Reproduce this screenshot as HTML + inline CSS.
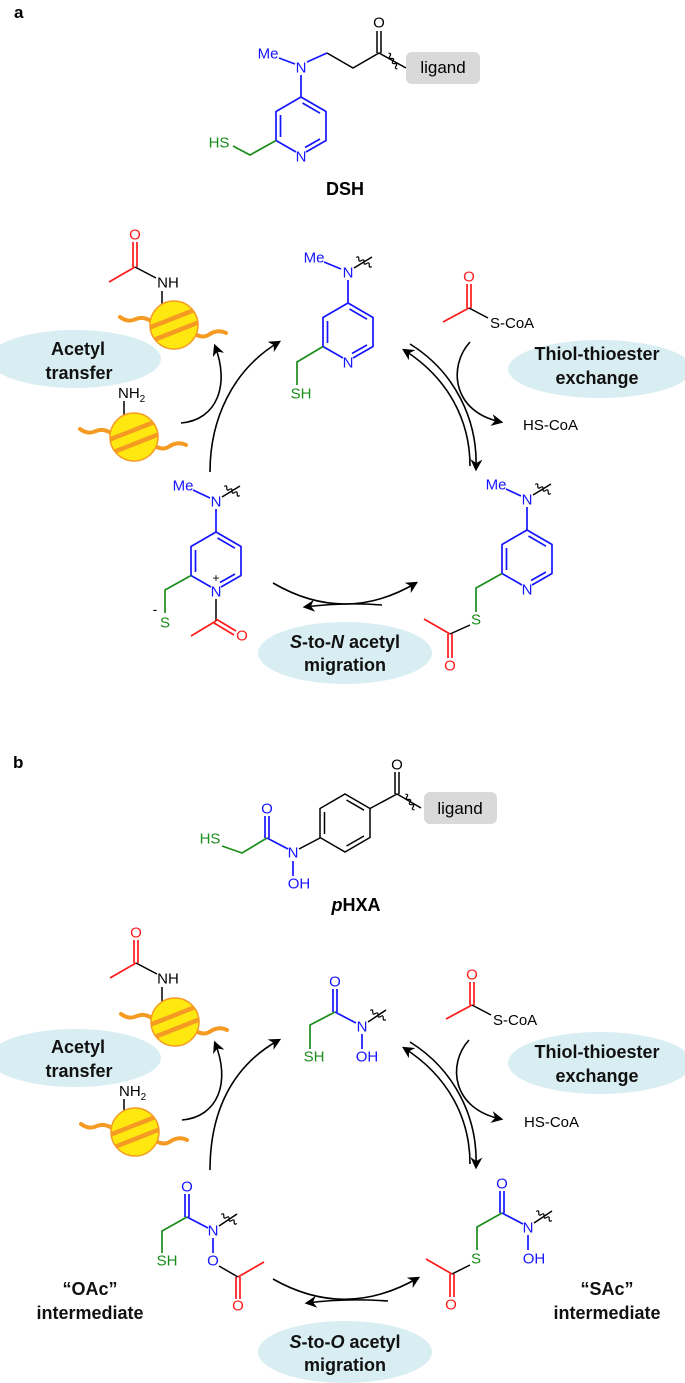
<!DOCTYPE html>
<html><head><meta charset="utf-8"><style>
html,body{margin:0;padding:0;background:#fff;}
svg{display:block;}
text{font-family:"Liberation Sans",Arial,sans-serif;}
.l{font-size:15px;text-anchor:middle;dominant-baseline:central;}
.bt{font-size:18px;font-weight:bold;text-anchor:middle;dominant-baseline:central;fill:#111;}
.k{stroke:#000;stroke-width:1.5;fill:none;}
.b{stroke:#1515ff;stroke-width:1.7;fill:none;}
.g{stroke:#1a8c1a;stroke-width:1.7;fill:none;}
.r{stroke:#ff1a1a;stroke-width:1.7;fill:none;}
.ar{stroke:#000;stroke-width:1.6;fill:none;}
</style></head><body>
<svg width="685" height="1383" viewBox="0 0 685 1383" xmlns="http://www.w3.org/2000/svg">
<defs>
<marker id="ah" viewBox="0 0 10 10" refX="8" refY="5" markerWidth="12" markerHeight="12" markerUnits="userSpaceOnUse" orient="auto-start-reverse"><path d="M0,0 L10,5 L0,10 L3,5z" fill="#000"/></marker>
<clipPath id="bc"><circle cx="0" cy="0" r="24"/></clipPath>
<g id="prot">
<path d="M-23,-4 q-8,-5 -15,-2 q-8,4 -16,-2" stroke="#f59a23" stroke-width="4" fill="none" stroke-linecap="round"/>
<path d="M21,9 q8,5 15,0 q8,-5 16,-1" stroke="#f59a23" stroke-width="4" fill="none" stroke-linecap="round"/>
<circle cx="0" cy="0" r="24" fill="#ffe80f" stroke="#f59a23" stroke-width="1.5"/>
<g clip-path="url(#bc)"><line x1="-28" y1="4" x2="28" y2="-18" stroke="#f59a23" stroke-width="4.5"/><line x1="-28" y1="18" x2="28" y2="-4" stroke="#f59a23" stroke-width="4.5"/></g>
</g>
<g id="pyr" class="b">
<path d="M0,0 L25,14.5 L25,43.5 L5,55 M-5,55 L-25,43.5 L-25,14.5 L0,0" stroke-linejoin="round"/>
<line x1="-20.5" y1="18" x2="-20.5" y2="40"/>
<line x1="1.5" y1="6" x2="19" y2="16.2"/>
<line x1="19" y1="42" x2="4" y2="50.5"/>
</g>
<g id="wav"><path d="M0,-9 q3,1.5 0,3 q-3,1.5 0,3 q3,1.5 0,3 q-3,1.5 0,3 q3,1.5 0,3 q-3,1.5 0,3" stroke="#000" stroke-width="1.2" fill="none"/></g>
</defs>

<!-- ===== Panel a ===== -->
<text x="14" y="18" font-size="17" font-weight="bold">a</text>
<text class="l" x="268" y="54" fill="#1515ff">Me</text>
<line class="b" x1="279" y1="58" x2="295" y2="64"/>
<text class="l" x="301" y="68" fill="#1515ff">N</text>
<path class="b" d="M307,62 L327,53"/>
<path class="k" d="M327,53 L353,68 L379,53 L406,68"/>
<line class="k" x1="377" y1="53" x2="377" y2="31"/><line class="k" x1="381" y1="53" x2="381" y2="31"/>
<text class="l" x="379" y="23" fill="#000">O</text>
<use href="#wav" transform="translate(393,61) rotate(-30)"/>
<rect x="406" y="52" width="74" height="32" rx="6" fill="#d9d9d9"/>
<text x="443" y="73" font-size="17" text-anchor="middle">ligand</text>
<line class="b" x1="301" y1="75" x2="301" y2="97"/>
<use href="#pyr" transform="translate(301,97)"/>
<text class="l" x="301" y="157" fill="#1515ff">N</text>
<path class="g" d="M276,140.5 L250,155 L233,146"/>
<text class="l" x="219" y="143" fill="#1a8c1a">HS</text>
<text x="345" y="195" font-size="18" font-weight="bold" text-anchor="middle">DSH</text>

<text class="l" x="314" y="258" fill="#1515ff">Me</text>
<line class="b" x1="324" y1="262" x2="341" y2="269"/>
<text class="l" x="348" y="273" fill="#1515ff">N</text>
<line class="k" x1="354" y1="268" x2="372" y2="257"/>
<use href="#wav" transform="translate(364,262) rotate(-60)"/>
<line class="b" x1="348" y1="280" x2="348" y2="303"/>
<use href="#pyr" transform="translate(348,303)"/>
<text class="l" x="348" y="363" fill="#1515ff">N</text>
<path class="g" d="M323,346.5 L297,362 L297,385"/>
<text class="l" x="301" y="394" fill="#1a8c1a">SH</text>

<line class="r" x1="467" y1="284" x2="467" y2="308"/><line class="r" x1="471" y1="284" x2="471" y2="308"/>
<text class="l" x="469" y="277" fill="#ff1a1a">O</text>
<line class="r" x1="469" y1="308" x2="443" y2="322"/>
<line class="k" x1="469" y1="308" x2="488" y2="318"/>
<text x="490" y="328" font-size="15">S-CoA</text>

<text class="l" x="135" y="235" fill="#ff1a1a">O</text>
<line class="r" x1="133" y1="242" x2="133" y2="267"/><line class="r" x1="137" y1="242" x2="137" y2="267"/>
<line class="r" x1="135" y1="267" x2="109" y2="282"/>
<line class="k" x1="135" y1="267" x2="156" y2="278"/>
<text class="l" x="168" y="283">NH</text>
<line class="k" x1="162" y1="291" x2="162" y2="312"/>
<use href="#prot" transform="translate(174,325)"/>
<text x="118" y="398" font-size="15">NH<tspan font-size="10" dy="4">2</tspan></text>
<line class="k" x1="124" y1="401" x2="124" y2="420"/>
<use href="#prot" transform="translate(134,437)"/>

<ellipse cx="75" cy="359" rx="86" ry="29" fill="#d9eef2"/>
<text class="bt" x="78" y="349">Acetyl</text><text class="bt" x="79" y="373">transfer</text>
<ellipse cx="600" cy="369" rx="92" ry="29" fill="#d9eef2"/>
<text class="bt" x="597" y="354">Thiol-thioester</text><text class="bt" x="597" y="378">exchange</text>
<text x="523" y="430" font-size="15">HS-CoA</text>

<path class="ar" d="M210,472 C210,420 232,370 279,342" marker-end="url(#ah)"/>
<path class="ar" d="M181,423 C217,420 230,385 215,346" marker-end="url(#ah)"/>
<path class="ar" d="M410,344 C455,372 478,420 476,469" marker-end="url(#ah)"/>
<path class="ar" d="M404,350 C448,378 470,420 470,466" marker-start="url(#ah)"/>
<path class="ar" d="M470,342 C448,366 452,412 501,422" marker-end="url(#ah)"/>
<path class="ar" d="M273,583 Q345,625 416,583" marker-end="url(#ah)"/>
<path class="ar" d="M382,605 Q345,602 305,607" marker-end="url(#ah)"/>

<text class="l" x="183" y="486" fill="#1515ff">Me</text>
<line class="b" x1="193" y1="490" x2="210" y2="498"/>
<text class="l" x="216" y="502" fill="#1515ff">N</text>
<line class="k" x1="222" y1="497" x2="240" y2="486"/>
<use href="#wav" transform="translate(232,491) rotate(-60)"/>
<line class="b" x1="216" y1="509" x2="216" y2="532"/>
<use href="#pyr" transform="translate(216,532)"/>
<text class="l" x="216" y="592" fill="#1515ff">N</text>
<text x="216" y="582" font-size="12" text-anchor="middle">+</text>
<path class="g" d="M191,575.5 L165,590 L165,613"/>
<text class="l" x="165" y="623" fill="#1a8c1a">S</text>
<text x="155" y="614" font-size="14" text-anchor="middle">-</text>
<line class="k" x1="216" y1="599" x2="216" y2="621"/>
<line class="r" x1="216" y1="621" x2="191" y2="636"/>
<line class="r" x1="216" y1="619" x2="236" y2="631"/><line class="r" x1="214" y1="623" x2="234" y2="635"/>
<text class="l" x="242" y="636" fill="#ff1a1a">O</text>

<text class="l" x="496" y="485" fill="#1515ff">Me</text>
<line class="b" x1="506" y1="489" x2="521" y2="496"/>
<text class="l" x="527" y="500" fill="#1515ff">N</text>
<line class="k" x1="533" y1="495" x2="551" y2="484"/>
<use href="#wav" transform="translate(543,489) rotate(-60)"/>
<line class="b" x1="527" y1="507" x2="527" y2="530"/>
<use href="#pyr" transform="translate(527,530)"/>
<text class="l" x="527" y="590" fill="#1515ff">N</text>
<path class="g" d="M502,573.5 L476,588 L476,612"/>
<text class="l" x="476" y="620" fill="#1a8c1a">S</text>
<line class="k" x1="470" y1="625" x2="450" y2="634"/>
<line class="r" x1="450" y1="634" x2="424" y2="619"/>
<line class="r" x1="448" y1="634" x2="448" y2="658"/><line class="r" x1="452" y1="634" x2="452" y2="658"/>
<text class="l" x="450" y="666" fill="#ff1a1a">O</text>

<ellipse cx="345" cy="653" rx="87" ry="31" fill="#d9eef2"/>
<text class="bt" x="345" y="642"><tspan font-style="italic">S</tspan>-to-<tspan font-style="italic">N</tspan> acetyl</text>
<text class="bt" x="345" y="665">migration</text>

<!-- ===== Panel b ===== -->
<text x="13" y="768" font-size="17" font-weight="bold">b</text>
<text class="l" x="210" y="839" fill="#1a8c1a">HS</text>
<path class="g" d="M222,846 L242,853 L267,838"/>
<line class="b" x1="265" y1="838" x2="265" y2="816"/><line class="b" x1="269" y1="838" x2="269" y2="816"/>
<text class="l" x="267" y="809" fill="#1515ff">O</text>
<line class="b" x1="267" y1="838" x2="288" y2="849"/>
<text class="l" x="293" y="853" fill="#1515ff">N</text>
<line class="b" x1="293" y1="861" x2="293" y2="876"/>
<text class="l" x="299" y="884" fill="#1515ff">OH</text>
<line class="k" x1="299" y1="849" x2="320" y2="838"/>
<g class="k"><path d="M345,794 L370,808.5 L370,837.5 L345,852 L320,837.5 L320,808.5 Z"/>
<line x1="324.5" y1="812" x2="324.5" y2="834"/><line x1="346.5" y1="800" x2="364" y2="810.2"/><line x1="364" y1="836" x2="346.5" y2="846"/></g>
<path class="k" d="M370,808.5 L397,794 L421,808"/>
<line class="k" x1="395" y1="794" x2="395" y2="772"/><line class="k" x1="399" y1="794" x2="399" y2="772"/>
<text class="l" x="397" y="765">O</text>
<use href="#wav" transform="translate(410,802) rotate(-30)"/>
<rect x="424" y="792" width="73" height="32" rx="6" fill="#d9d9d9"/>
<text x="460" y="814" font-size="17" text-anchor="middle">ligand</text>
<text x="356" y="911" font-size="18" font-weight="bold" text-anchor="middle"><tspan font-style="italic">p</tspan>HXA</text>

<text class="l" x="335" y="982" fill="#1515ff">O</text>
<line class="b" x1="333" y1="989" x2="333" y2="1012"/><line class="b" x1="337" y1="989" x2="337" y2="1012"/>
<line class="b" x1="335" y1="1012" x2="356" y2="1023"/>
<text class="l" x="362" y="1027" fill="#1515ff">N</text>
<line class="k" x1="368" y1="1022" x2="386" y2="1010"/>
<use href="#wav" transform="translate(378,1015) rotate(-60)"/>
<path class="g" d="M335,1012 L310,1025 L310,1049"/>
<text class="l" x="314" y="1057" fill="#1a8c1a">SH</text>
<line class="b" x1="362" y1="1034" x2="362" y2="1049"/>
<text class="l" x="367" y="1057" fill="#1515ff">OH</text>

<text class="l" x="472" y="975" fill="#ff1a1a">O</text>
<line class="r" x1="470" y1="982" x2="470" y2="1005"/><line class="r" x1="474" y1="982" x2="474" y2="1005"/>
<line class="r" x1="472" y1="1005" x2="446" y2="1019"/>
<line class="k" x1="472" y1="1005" x2="491" y2="1015"/>
<text x="493" y="1025" font-size="15">S-CoA</text>

<text class="l" x="136" y="933" fill="#ff1a1a">O</text>
<line class="r" x1="134" y1="940" x2="134" y2="963"/><line class="r" x1="138" y1="940" x2="138" y2="963"/>
<line class="r" x1="136" y1="963" x2="110" y2="978"/>
<line class="k" x1="136" y1="963" x2="157" y2="974"/>
<text class="l" x="168" y="979">NH</text>
<line class="k" x1="162" y1="987" x2="162" y2="1008"/>
<use href="#prot" transform="translate(175,1022)"/>
<text x="119" y="1096" font-size="15">NH<tspan font-size="10" dy="4">2</tspan></text>
<line class="k" x1="124" y1="1099" x2="124" y2="1118"/>
<use href="#prot" transform="translate(135,1132)"/>

<ellipse cx="75" cy="1058" rx="86" ry="29" fill="#d9eef2"/>
<text class="bt" x="78" y="1047">Acetyl</text><text class="bt" x="79" y="1071">transfer</text>
<ellipse cx="600" cy="1063" rx="92" ry="31" fill="#d9eef2"/>
<text class="bt" x="597" y="1052">Thiol-thioester</text><text class="bt" x="597" y="1076">exchange</text>
<text x="524" y="1127" font-size="15">HS-CoA</text>

<path class="ar" d="M210,1170 C210,1112 232,1066 279,1040" marker-end="url(#ah)"/>
<path class="ar" d="M182,1120 C218,1117 231,1082 215,1043" marker-end="url(#ah)"/>
<path class="ar" d="M410,1042 C455,1070 478,1118 476,1167" marker-end="url(#ah)"/>
<path class="ar" d="M404,1048 C448,1076 470,1118 470,1164" marker-start="url(#ah)"/>
<path class="ar" d="M469,1040 C447,1064 452,1109 501,1119" marker-end="url(#ah)"/>
<path class="ar" d="M273,1279 Q345,1320 418,1278" marker-end="url(#ah)"/>
<path class="ar" d="M388,1301 Q345,1298 307,1303" marker-end="url(#ah)"/>

<text class="l" x="187" y="1187" fill="#1515ff">O</text>
<line class="b" x1="185" y1="1194" x2="185" y2="1217"/><line class="b" x1="189" y1="1194" x2="189" y2="1217"/>
<line class="b" x1="187" y1="1217" x2="208" y2="1228"/>
<text class="l" x="213" y="1231" fill="#1515ff">N</text>
<line class="k" x1="219" y1="1226" x2="237" y2="1214"/>
<use href="#wav" transform="translate(229,1219) rotate(-60)"/>
<path class="g" d="M187,1217 L162,1231 L162,1253"/>
<text class="l" x="167" y="1261" fill="#1a8c1a">SH</text>
<line class="b" x1="213" y1="1238" x2="213" y2="1253"/>
<text class="l" x="213" y="1261" fill="#1515ff">O</text>
<line class="k" x1="219" y1="1266" x2="238" y2="1277"/>
<line class="r" x1="238" y1="1277" x2="264" y2="1262"/>
<line class="r" x1="236" y1="1277" x2="236" y2="1299"/><line class="r" x1="240" y1="1277" x2="240" y2="1299"/>
<text class="l" x="238" y="1306" fill="#ff1a1a">O</text>
<text class="bt" x="90" y="1289">“OAc”</text><text class="bt" x="90" y="1313">intermediate</text>

<text class="l" x="502" y="1184" fill="#1515ff">O</text>
<line class="b" x1="500" y1="1191" x2="500" y2="1213"/><line class="b" x1="504" y1="1191" x2="504" y2="1213"/>
<line class="b" x1="502" y1="1213" x2="523" y2="1224"/>
<text class="l" x="528" y="1228" fill="#1515ff">N</text>
<line class="k" x1="534" y1="1223" x2="552" y2="1211"/>
<use href="#wav" transform="translate(544,1216) rotate(-60)"/>
<path class="g" d="M502,1213 L477,1227 L477,1250"/>
<text class="l" x="476" y="1259" fill="#1a8c1a">S</text>
<line class="k" x1="470" y1="1265" x2="452" y2="1274"/>
<line class="r" x1="452" y1="1274" x2="426" y2="1259"/>
<line class="r" x1="450" y1="1274" x2="450" y2="1297"/><line class="r" x1="454" y1="1274" x2="454" y2="1297"/>
<text class="l" x="451" y="1305" fill="#ff1a1a">O</text>
<line class="b" x1="528" y1="1235" x2="528" y2="1250"/>
<text class="l" x="534" y="1259" fill="#1515ff">OH</text>
<text class="bt" x="607" y="1289">“SAc”</text><text class="bt" x="607" y="1313">intermediate</text>

<ellipse cx="345" cy="1352" rx="87" ry="31" fill="#d9eef2"/>
<text class="bt" x="345" y="1342"><tspan font-style="italic">S</tspan>-to-<tspan font-style="italic">O</tspan> acetyl</text>
<text class="bt" x="345" y="1365">migration</text>
</svg>
</body></html>
